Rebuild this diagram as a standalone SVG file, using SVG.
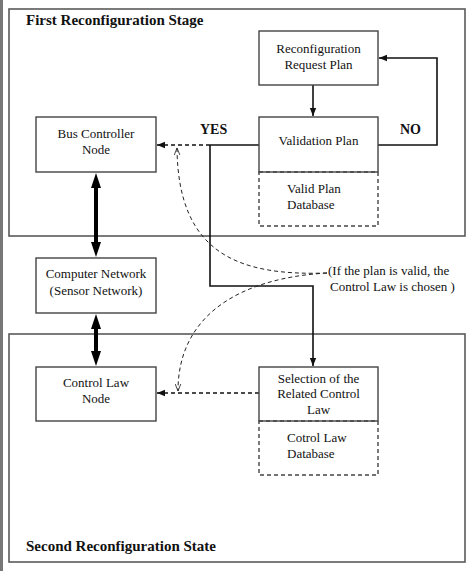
<svg xmlns="http://www.w3.org/2000/svg" width="474" height="571" viewBox="0 0 474 571">
<defs>
<style>
text{font-family:"Liberation Serif","Times New Roman",serif;font-size:13px;fill:#111}
.title{font-size:15px;font-weight:bold}
.lbl{font-size:14px;font-weight:bold}
.frame{fill:none;stroke:#5a5a5a;stroke-width:1.6}
.box{fill:#fff;stroke:#444;stroke-width:1.4}
.db{fill:none;stroke:#444;stroke-width:1.4;stroke-dasharray:4,3}
.ln{fill:none;stroke:#111;stroke-width:1.6}
.dl{fill:none;stroke:#111;stroke-width:1.4;stroke-dasharray:4,3}
.dc{fill:none;stroke:#222;stroke-width:1;stroke-dasharray:4,3}
.thick{fill:none;stroke:#000;stroke-width:4}
</style>
<marker id="ah" viewBox="0 0 10 10" refX="10" refY="5" markerWidth="8" markerHeight="8" markerUnits="userSpaceOnUse" orient="auto"><path d="M0,1 L10,5 L0,9 Z" fill="#111"/></marker>
<marker id="oh" viewBox="0 0 10 10" refX="10" refY="5" markerWidth="9" markerHeight="7" markerUnits="userSpaceOnUse" orient="auto"><path d="M0,1 L10,5 L0,9" fill="none" stroke="#222" stroke-width="1.2"/></marker>
<marker id="th" viewBox="0 0 14 10" refX="14" refY="5" markerWidth="14" markerHeight="10" markerUnits="userSpaceOnUse" orient="auto"><path d="M0,0 L14,5 L0,10 Z" fill="#000"/></marker>
</defs>
<rect x="0" y="0" width="474" height="571" fill="#fff"/>
<rect x="0" y="0" width="3" height="571" fill="#777"/>
<g id="stage1"><rect class="frame" x="9" y="9" width="456" height="227"/><text class="title" x="26" y="25">First Reconfiguration Stage</text></g>
<g id="stage2"><rect class="frame" x="9" y="334" width="456" height="228"/><text class="title" x="26" y="551">Second Reconfiguration State</text></g>
<g id="connectors">
<path class="ln" d="M313,85 V116" marker-end="url(#ah)"/>
<path class="ln" d="M378,145 H437 V58 H379" marker-end="url(#ah)"/>
<path class="ln" d="M259,145 H210"/>
<path class="dl" d="M210,145 H157" marker-end="url(#ah)"/>
<path class="ln" d="M210,145 V286 H313 V366" marker-end="url(#ah)"/>
<path class="dl" d="M259,393 H157" marker-end="url(#ah)"/>
<path class="thick" d="M96,186 V244"/>
<path d="M96,173 L91,188 L101,188 Z M96,257 L91,242 L101,242 Z" fill="#000"/>
<path class="thick" d="M96,327 V353"/>
<path d="M96,314 L91,329 L101,329 Z M96,366 L91,351 L101,351 Z" fill="#000"/>
<path class="dc" d="M327,273 C240,276 178,255 177,148" marker-end="url(#oh)"/>
<path class="dc" d="M327,273 C240,278 178,315 178,391" marker-end="url(#oh)"/>
<text class="lbl" x="200" y="134">YES</text>
<text class="lbl" x="400" y="134">NO</text>
<text x="328" y="275">(If the plan is valid, the</text>
<text x="330" y="291">Control Law is chosen )</text>
</g>
<g id="reqplan"><rect class="box" x="259" y="31" width="119" height="54"/><text x="318.5" y="53" text-anchor="middle">Reconfiguration</text><text x="318.5" y="69" text-anchor="middle">Request Plan</text></g>
<g id="valplan"><rect class="box" x="259" y="117" width="119" height="55"/><text x="318.5" y="145" text-anchor="middle">Validation Plan</text></g>
<g id="validdb"><rect class="db" x="259" y="172" width="119" height="54"/><text x="287" y="193">Valid Plan</text><text x="287" y="209">Database</text></g>
<g id="busctrl"><rect class="box" x="36" y="117" width="120" height="55"/><text x="96" y="138" text-anchor="middle">Bus Controller</text><text x="96" y="154" text-anchor="middle">Node</text></g>
<g id="network"><rect class="box" x="36" y="258" width="120" height="55"/><text x="96" y="278" text-anchor="middle">Computer Network</text><text x="96" y="295" text-anchor="middle">(Sensor Network)</text></g>
<g id="ctrllaw"><rect class="box" x="36" y="367" width="120" height="54"/><text x="96" y="387" text-anchor="middle">Control Law</text><text x="96" y="403" text-anchor="middle">Node</text></g>
<g id="selection"><rect class="box" x="259" y="367" width="119" height="54"/><text x="318.5" y="383" text-anchor="middle">Selection of the</text><text x="318.5" y="398" text-anchor="middle">Related Control</text><text x="318.5" y="414" text-anchor="middle">Law</text></g>
<g id="ctrldb"><rect class="db" x="259" y="421" width="119" height="54"/><text x="287" y="442">Cotrol Law</text><text x="287" y="458">Database</text></g>
</svg>
